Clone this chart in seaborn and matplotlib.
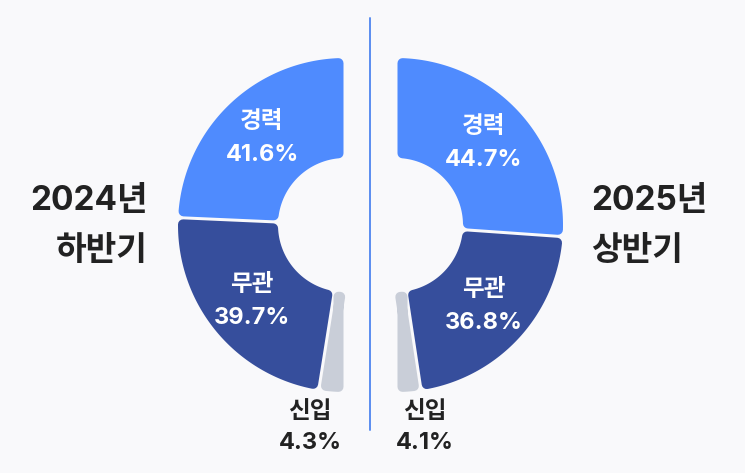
import numpy as np
import matplotlib
matplotlib.use("Agg")
import matplotlib.pyplot as plt
from matplotlib.patches import Polygon
import seaborn as sns

# data
categories = ["경력", "무관", "신입"]
values_2024h2 = [41.6, 39.7, 4.3]
values_2025h1 = [44.7, 36.8, 4.1]
period_2024 = ["2024년", "하반기"]
period_2025 = ["2025년", "상반기"]

sns.set_theme(style="white")
plt.rcParams["font.family"] = ["Inter", "Noto Sans CJK KR", "DejaVu Sans"]

bg = "#F9F9FB"
colors = ["#4F8BFE", "#364E9C", "#C9CED8"]
dark = "#222222"

fig = plt.figure(figsize=(7.45, 4.73), dpi=100, facecolor=bg)
ax = fig.add_axes([0, 0, 1, 1])
ax.set_facecolor(bg)

R_OUT, R_IN = 167, 67
GAP, ROUND = 3.0, 5.0
PX2PT = 72 / 100


def rounded_wedge(cx, cy, t1, t2, r_out, r_in, color):
    off = GAP / 2 + ROUND
    ro, ri = r_out - ROUND, r_in + ROUND
    do = np.degrees(np.arcsin(off / ro))
    di = np.degrees(np.arcsin(off / ri))
    a_out = np.radians(np.linspace(t1 + do, t2 - do, 80))
    a_in = np.radians(np.linspace(t2 - di, t1 + di, 40))
    xs = np.concatenate([cx + ro * np.cos(a_out), cx + ri * np.cos(a_in)])
    ys = np.concatenate([cy + ro * np.sin(a_out), cy + ri * np.sin(a_in)])
    poly = Polygon(np.column_stack([xs, ys]), closed=True, facecolor=color,
                   edgecolor=color, linewidth=2 * ROUND * PX2PT, joinstyle="round")
    ax.add_patch(poly)


def half_donut(cx, cy, vals, counterclock):
    total = sum(vals)
    wedges, _ = ax.pie(vals + [total], startangle=90, counterclock=counterclock,
                       center=(cx, cy), radius=R_OUT, frame=True,
                       wedgeprops=dict(width=R_OUT - R_IN))
    mids = []
    for i, w in enumerate(wedges):
        t1, t2 = w.theta1, w.theta2
        w.remove()
        if i < len(vals):
            rounded_wedge(cx, cy, t1, t2, R_OUT, R_IN, colors[i])
            mids.append((t1 + t2) / 2)
    return mids


def wedge_labels(cx, cy, vals, mids, side):
    for i in range(2):
        a = np.radians(mids[i])
        x = cx + 120 * np.cos(a)
        y = cy + 120 * np.sin(a)
        ax.text(x, y + 16, categories[i], ha="center", va="center",
                color="white", fontsize=17, fontweight="bold")
        ax.text(x, y - 17, f"{vals[i]}%", ha="center", va="center",
                color="white", fontsize=17, fontweight="bold")
    x = cx + side
    ax.text(x, cy - 187, categories[2], ha="center", va="center",
            color=dark, fontsize=17, fontweight="bold")
    ax.text(x, cy - 218, f"{vals[2]}%", ha="center", va="center",
            color=dark, fontsize=17, fontweight="bold")


cy = 473 - 225
cx_left, cx_right = 345, 396

mids_l = half_donut(cx_left, cy, values_2024h2, True)
mids_r = half_donut(cx_right, cy, values_2025h1, False)
wedge_labels(cx_left, cy, values_2024h2, mids_l, -35)
wedge_labels(cx_right, cy, values_2025h1, mids_r, 29)

ax.set_xlim(0, 745)
ax.set_ylim(0, 473)
ax.set_aspect("equal")
ax.axis("off")

ax.plot([370, 370], [473 - 18, 473 - 430], color="#5B8EF0", linewidth=1.4)

for j, line in enumerate(period_2024):
    ax.text(148, 473 - 201 - 50 * j, line, ha="right", va="center",
            color=dark, fontsize=24, fontweight="bold")
for j, line in enumerate(period_2025):
    ax.text(591, 473 - 201 - 50 * j, line, ha="left", va="center",
            color=dark, fontsize=24, fontweight="bold")

fig.savefig("out.png", dpi=100, facecolor=bg)
